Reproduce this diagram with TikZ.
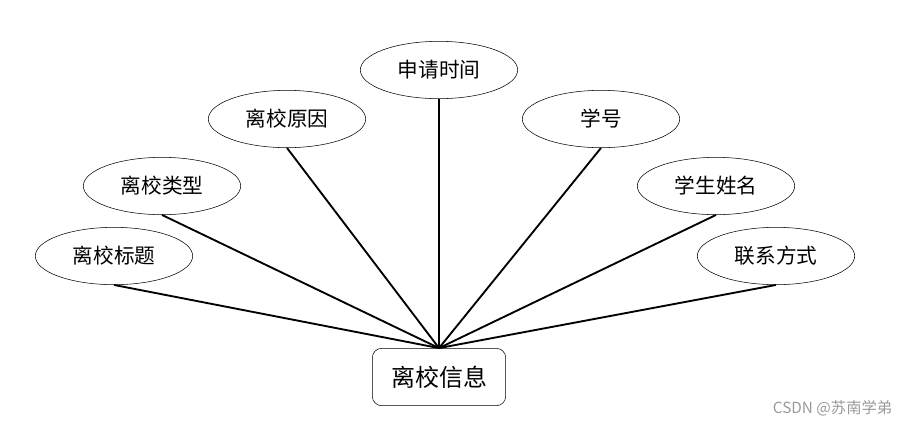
\documentclass[tikz,border=0pt]{standalone}
\usepackage{fontspec}
\setmainfont{Noto Sans CJK SC}
\usetikzlibrary{shapes.geometric}

\begin{document}
\begin{tikzpicture}[x=0.75pt,y=-0.75pt,font=\fontsize{15.5}{18}\selectfont,attr/.style={draw,ellipse,thin,minimum width=118pt,minimum height=43pt,inner sep=0pt},entity/.style={draw,rounded corners=7pt,minimum width=100pt,minimum height=43pt,font=\fontsize{18}{21}\selectfont},link/.style={line width=1.4pt}]
\useasboundingbox (0,0) rectangle (910,426);
\node[entity] (info) at (439,377) {离校信息};
\node[attr] (time) at (439,70) {申请时间};
\node[attr] (reason) at (287,119) {离校原因};
\node[attr] (sno) at (601,119) {学号};
\node[attr] (type) at (162,186) {离校类型};
\node[attr] (sname) at (716,186) {学生姓名};
\node[attr] (title) at (114,256) {离校标题};
\node[attr] (contact) at (776,256) {联系方式};
\foreach \a in {time,reason,sno,type,sname,title,contact}
  \draw[link] (\a.south)--(info.north);
\node[text=gray!80,font=\fontsize{11.5}{13}\selectfont,anchor=east] (mark) at (897,408) {CSDN @苏南学弟};
\end{tikzpicture}
\end{document}
